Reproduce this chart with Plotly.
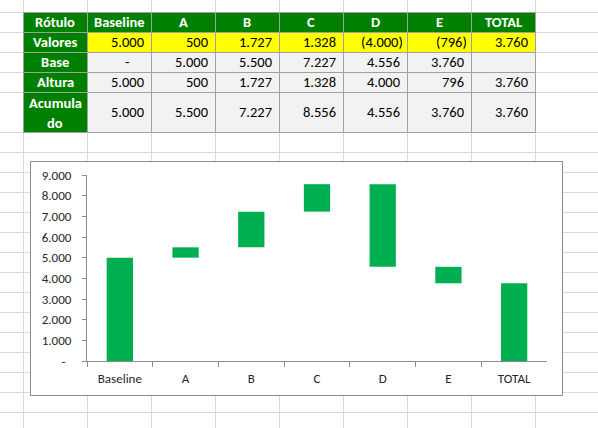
import plotly.graph_objects as go

# ---------------- data ----------------
categories = ["Baseline", "A", "B", "C", "D", "E", "TOTAL"]
valores = [5000, 500, 1727, 1328, -4000, -796, 3760]
base = [0, 5000, 5500, 7227, 4556, 3760, None]
altura = [5000, 500, 1727, 1328, 4000, 796, 3760]
acumulado = [5000, 5500, 7227, 8556, 4556, 3760, 3760]
row_labels = ["Valores", "Base", "Altura", "Acumulado"]
header_label = "Rótulo"
y_tick_vals = [0, 1000, 2000, 3000, 4000, 5000, 6000, 7000, 8000, 9000]

W, H = 598, 428
FONT = "Carlito, Calibri, Liberation Sans, Arial, sans-serif"
TSIZE = 14.5


def X(px):
    return px / W


def Y(py):
    return 1 - py / H


def fmt(v):
    if v is None:
        return ""
    if v == 0:
        return "-"
    s = f"{abs(v):,}".replace(",", ".")
    return f"({s})" if v < 0 else s


shapes = []
annotations = []

# ---------------- spreadsheet gridlines ----------------
grid_color = "#D9D9D9"
col_edges = [23, 87, 151, 215, 279, 343, 407, 471, 535]
row_edges = [12, 32, 52, 72, 92] + list(range(132, 428, 20))
for cx in col_edges:
    shapes.append(dict(type="line", xref="paper", yref="paper", x0=X(cx + 0.5), x1=X(cx + 0.5),
                       y0=0, y1=1, line=dict(color=grid_color, width=1), layer="below"))
for ry in row_edges:
    shapes.append(dict(type="line", xref="paper", yref="paper", x0=0, x1=1,
                       y0=Y(ry + 0.5), y1=Y(ry + 0.5), line=dict(color=grid_color, width=1), layer="below"))

# ---------------- table ----------------
green = "#008000"
yellow = "#FFFF00"
light = "#F2F2F2"
border = "#A0A0A0"
rows_px = [(12, 32), (32, 52), (52, 72), (72, 92), (92, 132)]
cols_px = [(col_edges[i], col_edges[i + 1]) for i in range(len(col_edges) - 1)]


def cell(x0, x1, y0, y1, fill):
    shapes.append(dict(type="rect", xref="paper", yref="paper", x0=X(x0 + 0.5), x1=X(x1 + 0.5),
                       y0=Y(y1 + 0.5), y1=Y(y0 + 0.5), fillcolor=fill,
                       line=dict(color=border, width=1), layer="below"))


def label(x, y, text, anchor, color, bold=False):
    annotations.append(dict(x=X(x), y=Y(y), xref="paper", yref="paper",
                            text=f"<b>{text}</b>" if bold else text, showarrow=False,
                            xanchor=anchor, yanchor="middle", borderpad=0,
                            font=dict(family=FONT, size=TSIZE, color=color)))


# header row
for ci, (x0, x1) in enumerate(cols_px):
    cell(x0, x1, rows_px[0][0], rows_px[0][1], green)
    txt = header_label if ci == 0 else categories[ci - 1]
    label((x0 + x1) / 2, 22, txt, "center", "white", bold=True)

table_rows = [valores, base, altura, acumulado]
for ri, vals in enumerate(table_rows):
    y0, y1 = rows_px[ri + 1]
    yc = (y0 + y1) / 2
    x0, x1 = cols_px[0]
    cell(x0, x1, y0, y1, green)
    lab = row_labels[ri]
    if lab == "Acumulado":
        label((x0 + x1) / 2, 103, "Acumula", "center", "white", bold=True)
        label((x0 + x1) / 2, 123, "do", "center", "white", bold=True)
    else:
        label((x0 + x1) / 2, yc, lab, "center", "white", bold=True)
    for ci, v in enumerate(vals):
        x0, x1 = cols_px[ci + 1]
        cell(x0, x1, y0, y1, yellow if ri == 0 else light)
        t = fmt(v)
        if t == "":
            continue
        if t == "-":
            right = x1 - 21
        elif t.startswith("("):
            right = x1 - 3
        else:
            right = x1 - 6
        label(right, yc, t, "right", "black")

# ---------------- chart box ----------------
shapes.append(dict(type="rect", xref="paper", yref="paper", x0=X(30.5), x1=X(562.5),
                   y0=Y(395.5), y1=Y(161.5), fillcolor="white",
                   line=dict(color="#8C8C8C", width=1), layer="below"))

# ---------------- bars ----------------
bar_base = [b if b is not None else 0 for b in base]
fig = go.Figure(go.Bar(x=categories, y=altura, base=bar_base, marker_color="#00B050",
                       marker_line_width=0, width=0.4, hoverinfo="skip"))

y_tick_text = ["-\u00a0\u00a0" if v == 0 else fmt(v) for v in y_tick_vals]

axis_color = "#8C8C8C"
fig.update_layout(
    width=W, height=H,
    margin=dict(l=0, r=0, t=0, b=0, pad=0, autoexpand=False),
    paper_bgcolor="white",
    plot_bgcolor="rgba(0,0,0,0)",
    showlegend=False,
    shapes=shapes,
    annotations=annotations,
    xaxis=dict(domain=[X(87), X(547)], range=[-0.5, 6.5], showline=True, automargin=False,
               linecolor=axis_color, linewidth=1, ticks="outside", tickson="boundaries",
               ticklen=5, tickcolor=axis_color, showgrid=False, zeroline=False,
               ticklabelstandoff=5,
               tickfont=dict(family=FONT, size=13, color="#262626"), fixedrange=True),
    yaxis=dict(domain=[Y(361), Y(175)], range=[0, 9000], showline=True, automargin=False,
               linecolor=axis_color, linewidth=1, ticks="outside", ticklen=4,
               tickcolor=axis_color, tickvals=y_tick_vals, ticktext=y_tick_text,
               showgrid=False, zeroline=False, ticklabelstandoff=8,
               tickfont=dict(family=FONT, size=13, color="#262626"), fixedrange=True),
)

fig.write_html("out.html")
